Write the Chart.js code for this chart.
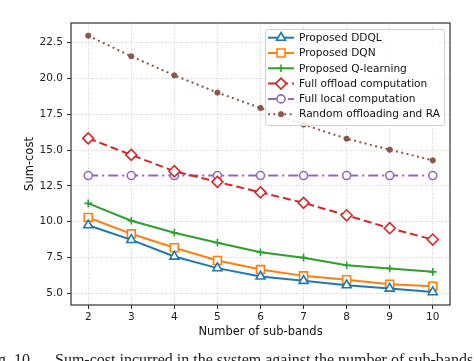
<!DOCTYPE html>
<html>
<head>
<meta charset="utf-8">
<script src="https://cdn.jsdelivr.net/npm/chart.js@4.4.0/dist/chart.umd.min.js"></script>
<style>
  html, body { margin: 0; padding: 0; background: #fff; }
  #wrap { width: 474px; height: 361px; position: relative; }
</style>
</head>
<body>
<div id="wrap"><canvas id="chartSumCost" width="474" height="361"></canvas></div>
<script>
// Data
const subBands = [2, 3, 4, 5, 6, 7, 8, 9, 10];
const ddql = [9.76, 8.74, 7.58, 6.77, 6.19, 5.89, 5.58, 5.35, 5.10];
const dqn = [10.30, 9.16, 8.19, 7.30, 6.67, 6.23, 5.96, 5.65, 5.51];
const qLearning = [11.28, 10.07, 9.23, 8.54, 7.88, 7.50, 6.97, 6.74, 6.51];
const fullOffload = [15.81, 14.66, 13.52, 12.78, 12.05, 11.32, 10.45, 9.55, 8.76];
const fullLocal = [13.22, 13.22, 13.22, 13.22, 13.22, 13.22, 13.22, 13.22, 13.22];
const randomRA = [22.97, 21.53, 20.20, 19.00, 17.93, 16.77, 15.79, 15.02, 14.28];
const yTicks = [5.0, 7.5, 10.0, 12.5, 15.0, 17.5, 20.0, 22.5];

const FONT = "'DejaVu Sans', sans-serif";

const toPoints = arr => arr.map((v, i) => ({ x: subBands[i], y: v }));

// draws legend markers the same way as on the plot
function drawMarker(ctx, style, x, y, r, stroke, fill, lw) {
    ctx.save();
    ctx.lineWidth = lw;
    ctx.strokeStyle = stroke;
    ctx.fillStyle = fill;
    ctx.setLineDash([]);
    ctx.beginPath();
    if (style === 'triangle') {
        ctx.moveTo(x, y - r);
        ctx.lineTo(x + r * Math.sqrt(3) / 2, y + r / 2);
        ctx.lineTo(x - r * Math.sqrt(3) / 2, y + r / 2);
        ctx.closePath();
    } else if (style === 'rect') {
        const s = r * Math.SQRT1_2;
        ctx.rect(x - s, y - s, 2 * s, 2 * s);
    } else if (style === 'rectRot') {
        ctx.moveTo(x, y - r);
        ctx.lineTo(x + r, y);
        ctx.lineTo(x, y + r);
        ctx.lineTo(x - r, y);
        ctx.closePath();
    } else if (style === 'cross') {
        ctx.moveTo(x - r, y); ctx.lineTo(x + r, y);
        ctx.moveTo(x, y - r); ctx.lineTo(x, y + r);
    } else {
        ctx.arc(x, y, r, 0, Math.PI * 2);
        ctx.closePath();
    }
    if (style !== 'cross') ctx.fill();
    ctx.stroke();
    ctx.restore();
}

// Legend inside the plot, upper right
const insideLegend = {
    id: 'insideLegend',
    afterDatasetsDraw(chart) {
        const { ctx } = chart;
        const bx = 265, by = 29, bw = 179, bh = 96;
        ctx.save();
        ctx.fillStyle = 'rgba(255,255,255,0.85)';
        ctx.strokeStyle = '#d0d0d0';
        ctx.lineWidth = 1;
        ctx.beginPath();
        ctx.roundRect(bx + 0.5, by + 0.5, bw, bh, 2);
        ctx.fill();
        ctx.stroke();
        chart.data.datasets.forEach((ds, i) => {
            const y = 37.7 + i * 15.3;
            ctx.strokeStyle = ds.borderColor;
            ctx.lineWidth = ds.borderWidth;
            ctx.setLineDash(ds.borderDash || []);
            ctx.beginPath();
            ctx.moveTo(268, y);
            ctx.lineTo(294, y);
            ctx.stroke();
            drawMarker(ctx, ds.pointStyle, 281, y, ds.pointRadius,
                ds.pointBorderColor, ds.pointBackgroundColor, ds.pointBorderWidth);
            ctx.setLineDash([]);
            ctx.fillStyle = '#111';
            ctx.font = '10.6px ' + FONT;
            ctx.textBaseline = 'middle';
            ctx.textAlign = 'left';
            ctx.fillText(ds.label, 299, y + 0.5);
        });
        ctx.restore();
    }
};

// Frame round the plot area and the figure caption
const frameAndCaption = {
    id: 'frameAndCaption',
    afterDraw(chart) {
        const { ctx, chartArea: a } = chart;
        ctx.save();
        ctx.strokeStyle = '#333';
        ctx.lineWidth = 1.2;
        ctx.strokeRect(a.left, a.top, a.right - a.left, a.bottom - a.top);
        ctx.fillStyle = '#222';
        ctx.font = "16px 'Liberation Serif', serif";
        ctx.textBaseline = 'alphabetic';
        ctx.textAlign = 'right';
        ctx.fillText('Fig. 10.', 34, 365);
        ctx.textAlign = 'left';
        ctx.fillText('Sum-cost incurred in the system against the number of sub-bands', 55, 365);
        ctx.restore();
    }
};

function makeSet(label, data, color, style, radius, extra) {
    return Object.assign({
        label: label,
        data: toPoints(data),
        borderColor: color,
        backgroundColor: color,
        borderWidth: 2,
        pointStyle: style,
        pointRadius: radius,
        pointHoverRadius: radius,
        pointBorderColor: color,
        pointBackgroundColor: '#fff',
        pointBorderWidth: 1.6,
        tension: 0,
        fill: false,
    }, extra || {});
}

new Chart(document.getElementById('chartSumCost'), {
    type: 'line',
    data: {
        datasets: [
            makeSet('Proposed DDQL', ddql, '#1f77b4', 'triangle', 5.2),
            makeSet('Proposed DQN', dqn, '#ff7f0e', 'rect', 5.6),
            makeSet('Proposed Q-learning', qLearning, '#2ca02c', 'cross', 3.8),
            makeSet('Full offload computation', fullOffload, '#d62728', 'rectRot', 5.5, { borderDash: [8, 4] }),
            makeSet('Full local computation', fullLocal, '#9467bd', 'circle', 4, { borderDash: [10, 4, 2, 4] }),
            makeSet('Random offloading and RA', randomRA, '#8c564b', 'circle', 2.6,
                { borderDash: [2, 3.4], pointBackgroundColor: '#8c564b', pointBorderWidth: 1 }),
        ]
    },
    options: {
        responsive: false,
        animation: false,
        layout: { padding: { left: 0, top: 23, right: 24, bottom: 19 } },
        plugins: {
            legend: { display: false },
            tooltip: { enabled: false },
        },
        scales: {
            x: {
                type: 'linear',
                min: 1.6,
                max: 10.4,
                afterBuildTicks: axis => { axis.ticks = subBands.map(v => ({ value: v })); },
                afterFit: axis => { axis.height = 37; },
                ticks: {
                    color: '#222',
                    font: { family: FONT, size: 10.5 },
                    padding: 2,
                    maxRotation: 0,
                    callback: v => String(v),
                },
                grid: {
                    color: '#c4c4c4',
                    lineWidth: 0.8,
                    tickColor: '#333',
                    tickLength: 4,
                    tickWidth: 1,
                    tickBorderDash: [],
                },
                border: { display: false, dash: [1, 1.5] },
                title: {
                    display: true,
                    text: 'Number of sub-bands',
                    color: '#111',
                    font: { family: FONT, size: 11.5 },
                    padding: { top: 1, bottom: 3.5 },
                },
            },
            y: {
                min: 4.2,
                max: 23.85,
                afterBuildTicks: axis => { axis.ticks = yTicks.map(v => ({ value: v })); },
                afterFit: axis => { axis.width = 71; },
                ticks: {
                    color: '#222',
                    font: { family: FONT, size: 10.5 },
                    padding: 4,
                    callback: v => v.toFixed(1),
                },
                grid: {
                    color: '#c4c4c4',
                    lineWidth: 0.8,
                    tickColor: '#333',
                    tickLength: 4,
                    tickWidth: 1,
                    tickBorderDash: [],
                },
                border: { display: false, dash: [1, 1.5] },
                title: {
                    display: true,
                    text: 'Sum-cost',
                    color: '#111',
                    font: { family: FONT, size: 11.5 },
                    padding: { top: 23, bottom: 0 },
                },
            }
        }
    },
    plugins: [insideLegend, frameAndCaption]
});
</script>
</body>
</html>
